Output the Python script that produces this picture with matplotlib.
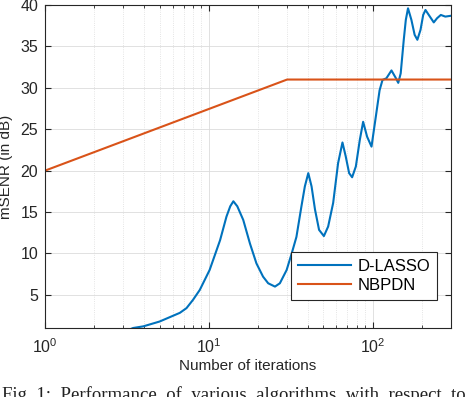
import numpy as np
import matplotlib
matplotlib.use("Agg")
import matplotlib.pyplot as plt
from matplotlib.ticker import LogLocator, NullFormatter

plt.rcParams['font.family'] = ['Liberation Sans', 'DejaVu Sans']

# D-LASSO curve (iterations, mSENR in dB)
dlasso_x = [3.0, 3.45, 3.98, 5.0, 6.65, 7.3, 8.0, 8.8, 10.1, 11.7, 12.8, 13.5,
            14.1, 14.9, 16.2, 17.8, 19.5, 21.4, 23.0, 25.3, 27.1, 29.8, 32.0,
            34.2, 36.7, 38.5, 40.4, 42.3, 44.4, 47.0, 50.3, 53.4, 57.3, 61.4,
            65.3, 68.4, 71.7, 74.8, 78.8, 83.3, 87.3, 92.3, 98.2, 105, 110,
            114.6, 121, 130, 138, 143, 148, 154.5, 159, 164, 172, 180, 187,
            195.5, 203, 209.6, 223, 235.5, 246.6, 260, 277, 300]
dlasso_y = [0.5, 1.0, 1.2, 1.78, 2.83, 3.4, 4.4, 5.6, 8.0, 11.6, 14.45, 15.7,
            16.3, 15.7, 14.05, 11.2, 8.8, 7.2, 6.4, 6.0, 6.4, 8.0, 10.0,
            12.0, 15.7, 18.1, 19.7, 18.1, 15.3, 12.85, 12.1, 13.25, 16.1, 20.9,
            23.4, 21.7, 19.7, 19.2, 20.5, 23.7, 25.9, 24.1, 22.9, 26.9, 29.7,
            30.95, 31.15, 32.1, 31.2, 30.6, 31.75, 35.8, 38.2, 39.6, 38.2, 36.4, 35.8,
            37.0, 38.8, 39.4, 38.6, 37.9, 38.4, 38.8, 38.6, 38.7]

# NBPDN curve
nbpdn_x = [1, 30, 300]
nbpdn_y = [20, 31, 31]

fig = plt.figure(figsize=(4.74, 3.97), dpi=100)
ax = fig.add_axes([45 / 474, 1 - 328 / 397, 406 / 474, 323 / 397])

ax.semilogx(dlasso_x, dlasso_y, color='#0072BD', linewidth=1.5, label='D-LASSO',
            solid_joinstyle='round')
ax.semilogx(nbpdn_x, nbpdn_y, color='#D95319', linewidth=1.5, label='NBPDN')

ax.set_xlim(1, 300)
ax.set_ylim(1, 40)
ax.set_yticks([5, 10, 15, 20, 25, 30, 35, 40])
ax.xaxis.set_minor_locator(LogLocator(base=10, subs=np.arange(2, 10), numticks=20))
ax.xaxis.set_minor_formatter(NullFormatter())

ax.grid(True, which='major', color='#dcdcdc', linewidth=0.6)
ax.grid(True, which='minor', axis='x', color='#dcdcdc', linewidth=0.6, linestyle=':')
ax.set_axisbelow(True)

ax.tick_params(which='both', direction='in', top=True, right=True,
               colors='#262626', labelsize=11.5)
ax.tick_params(which='major', length=4)
ax.tick_params(which='minor', length=2)
ax.tick_params(axis='x', which='major', pad=7)
ax.tick_params(axis='y', which='major', pad=5)
for s in ax.spines.values():
    s.set_color('#262626')
    s.set_linewidth(0.8)

ax.set_xlabel('Number of iterations', fontsize=11, color='#262626')
ax.xaxis.set_label_coords(0.5, -0.095)
ax.set_ylabel('mSENR (in dB)', fontsize=11, color='#262626')
ax.yaxis.set_label_coords(-0.078, 0.5)

leg = ax.legend(loc='lower right', bbox_to_anchor=(0.966, 0.087), fontsize=12,
                fancybox=False, edgecolor='#262626', framealpha=1,
                handlelength=3.2, borderaxespad=0, handletextpad=0.4,
                labelspacing=0.25, borderpad=0.4)
leg.get_frame().set_linewidth(0.8)

fig.text(0.005, 1 - 400 / 397, 'Fig. 1:  Performance  of  various  algorithms  with  respect  to',
         family='Liberation Serif', fontsize=13.5, va='baseline', ha='left', color='#222222')

fig.savefig('out.png', dpi=100)
